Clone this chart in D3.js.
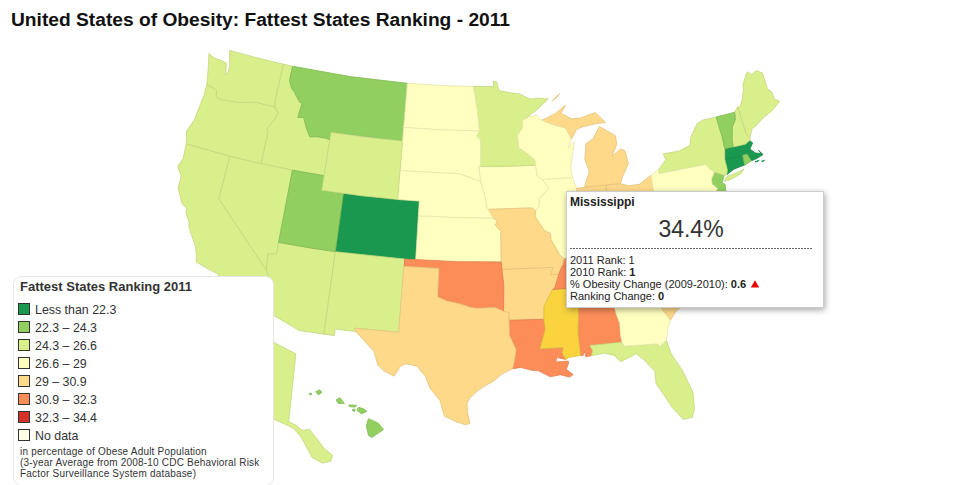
<!DOCTYPE html>
<html>
<head>
<meta charset="utf-8">
<script src="https://d3js.org/d3.v7.min.js"></script>
<style>
  body { margin: 0; background: white; font-family: "Liberation Sans", Arial, sans-serif; }
</style>
</head>
<body>
<div id="my_dataviz"></div>
<script>
// state codes and obesity values, estimated from the colour class in the picture
const stateCodes = ["AL","AK","AZ","AR","CA","CO","CT","DE","FL","GA","HI","ID","IL","IN","IA","KS","KY","LA","ME","MD","MA","MI","MN","MS","MO","MT","NE","NV","NH","NJ","NM","NY","NC","ND","OH","OK","OR","PA","RI","SC","SD","TN","TX","UT","VT","VA","WA","WV","WI","WY"];
const stateValues = [32.2,25.0,25.2,30.5,25.0,21.0,21.8,28.0,26.1,28.5,23.1,25.7,28.2,30.0,28.1,28.2,31.3,31.6,26.5,28.0,22.2,30.5,25.7,34.4,30.3,23.2,27.0,25.5,25.6,24.1,25.3,25.0,30.0,28.4,29.6,31.0,26.0,28.4,24.0,30.8,28.0,31.7,30.1,23.5,23.5,26.8,26.2,32.2,27.7,25.4];

// legend
const legendLabels = ["Less than 22.3","22.3 – 24.3","24.3 – 26.6","26.6 – 29","29 – 30.9","30.9 – 32.3","32.3 – 34.4","No data"];
const classBreaks = [22.3,24.3,26.6,29,30.9,32.3];
const classColors = ["#1a9850","#91cf60","#d9ef8b","#ffffbf","#fed98a","#fc8d59","#d73027"];
const noDataColor = "#ffffe5";
const hoverColor = "#f9d43f";
const footnote = ["in percentage of Obese Adult Population","(3-year Average from 2008-10 CDC Behavioral Risk","Factor Surveillance System database)"];

// tooltip
const hoverState = "MS";
const tipLines = [["2011 Rank: 1",""],["2010 Rank: ","1"],["% Obesity Change (2009-2010): ","0.6"],["Ranking Change: ","0"]];

// outlines, [lon, lat]
const outlines = {
  WA:[[[-124.7,48.38],[-124.1,48.2],[-123.1,48.15],[-122.75,48.1],[-122.65,47.9],[-122.45,47.3],[-122.3,47.5],[-122.3,47.95],[-122.5,48.4],[-122.75,49],[-120,49],[-117.03,49],[-117.04,46.42],[-116.92,45.99],[-118.98,46],[-119.3,45.93],[-120.5,45.7],[-121.2,45.65],[-122.2,45.58],[-122.75,45.65],[-122.9,46.1],[-123.4,46.2],[-123.98,46.25],[-124.1,46.7],[-124.2,47],[-124.4,47.6]]],
  OR:[[[-123.98,46.25],[-123.4,46.2],[-122.9,46.1],[-122.75,45.65],[-122.2,45.58],[-121.2,45.65],[-120.5,45.7],[-119.3,45.93],[-118.98,46],[-116.92,45.99],[-116.46,45.6],[-116.85,44.9],[-117.2,44.4],[-117.03,44.2],[-117.03,42],[-120,42],[-124.21,42],[-124.4,42.5],[-124.55,42.84],[-124.15,43.7],[-124.05,44.7],[-123.95,45.5]]],
  CA:[[[-124.21,42],[-120,42],[-120,39],[-114.63,35],[-114.14,34.3],[-114.43,34],[-114.72,33.4],[-114.52,33],[-114.72,32.72],[-117.12,32.53],[-117.25,32.85],[-117.9,33.6],[-118.4,33.75],[-118.5,34.03],[-119.2,34.15],[-120.5,34.45],[-120.65,34.9],[-120.9,35.45],[-121.9,36.6],[-122,36.95],[-122.5,37.5],[-122.5,37.8],[-123,38],[-123.75,38.95],[-123.8,39.8],[-124.35,40.35],[-124.1,41],[-124.2,41.75]]],
  NV:[[[-120,42],[-117.03,42],[-114.04,42],[-114.04,37],[-114.05,36.2],[-114.75,36.1],[-114.63,35],[-120,39]]],
  ID:[[[-117.03,49],[-116.05,49],[-116.05,48],[-115.7,47.5],[-115.3,47.25],[-114.6,46.65],[-114.35,46.65],[-114.5,45.6],[-113.95,45.7],[-113.45,44.95],[-113,44.45],[-112.3,44.55],[-111.5,44.55],[-111.05,44.48],[-111.05,42],[-114.04,42],[-117.03,42],[-117.03,44.2],[-117.2,44.4],[-116.85,44.9],[-116.46,45.6],[-116.92,45.99],[-117.04,46.42]]],
  MT:[[[-116.05,49],[-110,49],[-104.05,49],[-104.05,45],[-111.05,45],[-111.05,44.48],[-111.5,44.55],[-112.3,44.55],[-113,44.45],[-113.45,44.95],[-113.95,45.7],[-114.5,45.6],[-114.35,46.65],[-114.6,46.65],[-115.3,47.25],[-115.7,47.5],[-116.05,48]]],
  WY:[[[-111.05,45],[-107.5,45],[-104.05,45],[-104.05,41],[-107.5,41],[-111.05,41]]],
  UT:[[[-114.04,42],[-111.05,42],[-111.05,41],[-109.05,41],[-109.05,37],[-111.5,37],[-114.04,37]]],
  CO:[[[-109.05,41],[-105.5,41],[-102.05,41],[-102.05,37],[-105.5,37],[-109.05,37]]],
  AZ:[[[-114.05,37],[-109.05,37],[-109.05,31.33],[-111.07,31.33],[-114.81,32.5],[-114.72,32.72],[-114.52,33],[-114.72,33.4],[-114.43,34],[-114.14,34.3],[-114.63,35],[-114.75,36.1],[-114.05,36.2]]],
  NM:[[[-109.05,37],[-103,37],[-103.04,32],[-106.62,32],[-106.53,31.78],[-108.2,31.78],[-108.2,31.33],[-109.05,31.33]]],
  ND:[[[-104.05,49],[-100.5,49],[-97.23,49],[-96.85,47.6],[-96.56,45.94],[-100.5,45.94],[-104.05,45.94]]],
  SD:[[[-104.05,45.94],[-100.5,45.94],[-96.56,45.94],[-96.85,45.6],[-96.45,45.3],[-96.45,43.5],[-96.6,43.5],[-96.45,42.49],[-97.85,42.85],[-98.5,43],[-101,43],[-104.05,43]]],
  NE:[[[-104.05,43],[-101,43],[-98.5,43],[-97.85,42.85],[-96.45,42.49],[-96.1,41.7],[-95.85,40.7],[-95.31,40],[-98.5,40],[-102.05,40],[-102.05,41],[-104.05,41]]],
  KS:[[[-102.05,40],[-98.5,40],[-95.31,40],[-94.9,39.8],[-95.1,39.5],[-94.61,39.1],[-94.62,37],[-98.5,37],[-102.04,37]]],
  OK:[[[-103,37],[-98.5,37],[-94.62,37],[-94.43,35.4],[-94.48,33.64],[-95.2,33.9],[-96.6,33.85],[-97.2,33.9],[-98.1,34.13],[-99.2,34.3],[-100,34.56],[-100,36.5],[-103,36.5]]],
  TX:[[[-106.62,32],[-103.04,32],[-103.04,36.5],[-100,36.5],[-100,34.56],[-99.2,34.3],[-98.1,34.13],[-97.2,33.9],[-96.6,33.85],[-95.2,33.9],[-94.48,33.64],[-94.04,33.55],[-94.04,32],[-93.52,31],[-93.72,30.1],[-93.84,29.7],[-94.7,29.35],[-95.3,28.9],[-96.4,28.35],[-97.2,27.7],[-97.4,27.3],[-97.35,26.7],[-97.15,25.96],[-97.5,25.85],[-98.2,26.05],[-99.1,26.4],[-99.5,27.5],[-100.3,28.3],[-100.7,29.1],[-101.4,29.77],[-102.3,29.88],[-102.7,29.7],[-103.15,28.98],[-104,29.3],[-104.5,29.65],[-104.9,30.55],[-106,31.4],[-106.53,31.78]]],
  MN:[[[-97.23,49],[-95.15,49],[-95.15,49.38],[-94.8,49.3],[-94.6,48.72],[-93.5,48.55],[-92.5,48.45],[-91.4,48.05],[-90.75,48.1],[-89.6,48],[-90.8,47.3],[-92,46.72],[-92.3,46.66],[-92.3,46.1],[-92.85,45.6],[-92.75,44.75],[-91.9,44.3],[-91.25,43.85],[-91.22,43.5],[-94,43.5],[-96.45,43.5],[-96.45,45.3],[-96.85,45.6],[-96.56,45.94],[-96.85,47.6]]],
  IA:[[[-96.6,43.5],[-94,43.5],[-91.22,43.5],[-91.1,42.75],[-90.64,42.5],[-90.15,41.9],[-90.3,41.75],[-91.05,41.2],[-91.1,40.7],[-91.42,40.38],[-91.73,40.61],[-95.77,40.58],[-95.85,40.7],[-96.1,41.7],[-96.45,42.49]]],
  MO:[[[-95.77,40.58],[-91.73,40.61],[-91.42,40.38],[-91.5,40],[-90.7,39],[-90.2,38.8],[-90.2,38.4],[-89.5,37.3],[-89.15,37],[-89.4,36.5],[-89.7,36],[-90.37,36],[-90.15,36.5],[-94.62,36.5],[-94.62,37],[-94.61,39.1],[-95.1,39.5],[-94.9,39.8],[-95.31,40]]],
  AR:[[[-94.62,36.5],[-90.15,36.5],[-90.37,36],[-89.7,36],[-90.1,35.1],[-90.6,34.6],[-91.1,33.9],[-91.17,33],[-94.04,33.02],[-94.04,33.55],[-94.48,33.64],[-94.43,35.4]]],
  LA:[[[-94.04,33.02],[-91.17,33],[-91.1,32.3],[-91.6,31],[-89.73,31],[-89.85,30.65],[-89.6,30.18],[-90.3,30.35],[-90.4,30.05],[-89.8,30.05],[-89.4,30.05],[-89.4,29.9],[-89.6,29.5],[-89.1,29.1],[-89.4,28.95],[-90.1,29.15],[-90.9,29.05],[-91.8,29.5],[-92.3,29.55],[-93.2,29.78],[-93.84,29.7],[-93.72,30.1],[-93.52,31],[-94.04,32]]],
  MS:[[[-90.3,35],[-88.2,35],[-88.1,34.9],[-88.47,31.9],[-88.4,30.37],[-89.3,30.3],[-89.6,30.18],[-89.85,30.65],[-89.73,31],[-91.6,31],[-91.1,32.3],[-91.17,33],[-91.1,33.9],[-90.6,34.6]]],
  AL:[[[-88.2,35],[-85.6,34.98],[-85.18,32.87],[-85,32.3],[-85.05,31.55],[-85,31],[-87.6,31],[-87.4,30.65],[-87.52,30.3],[-88,30.25],[-88,30.65],[-88.2,30.35],[-88.4,30.37],[-88.47,31.9],[-88.1,34.9]]],
  TN:[[[-90.3,35],[-90.1,35.1],[-89.7,36],[-89.4,36.5],[-88.07,36.5],[-88.05,36.68],[-83.68,36.6],[-81.68,36.59],[-82,36.13],[-84.3,35],[-85.6,34.98],[-88.2,35]]],
  GA:[[[-85.6,34.98],[-84.3,35],[-83.1,35],[-83.35,34.7],[-82.6,34.2],[-81.5,33],[-80.85,32.05],[-81.2,31.5],[-81.45,30.72],[-82.05,30.37],[-82.2,30.57],[-84.86,30.7],[-85,31],[-85.05,31.55],[-85,32.3],[-85.18,32.87]]],
  FL:[[[-87.6,31],[-85,31],[-84.86,30.7],[-82.2,30.57],[-82.05,30.37],[-81.45,30.72],[-81.25,29.8],[-80.55,28.45],[-80.05,26.9],[-80.15,25.75],[-80.4,25.2],[-81.1,25.15],[-81.8,26.1],[-82.2,26.9],[-82.75,27.9],[-82.7,28.7],[-83.4,29.6],[-84,30.1],[-84.4,29.95],[-85.3,29.68],[-85.7,30.15],[-86.5,30.38],[-87.52,30.3],[-87.4,30.65]]],
  SC:[[[-83.1,35],[-82.3,35.2],[-81.05,35.15],[-80.8,34.82],[-79.68,34.8],[-78.55,33.86],[-79.2,33.2],[-80.4,32.5],[-80.85,32.05],[-81.5,33],[-82.6,34.2],[-83.35,34.7]]],
  NC:[[[-84.3,35],[-82,36.13],[-81.68,36.59],[-75.87,36.55],[-75.5,35.25],[-76.5,34.65],[-77.9,33.9],[-78.55,33.86],[-79.68,34.8],[-80.8,34.82],[-81.05,35.15],[-82.3,35.2],[-83.1,35]]],
  VA:[[[-83.68,36.6],[-81.68,36.59],[-75.87,36.55],[-76,37],[-76.3,37.5],[-76.3,38],[-77.05,38.4],[-77.05,38.85],[-77.5,39.1],[-77.83,39.13],[-78.35,39.4],[-78.87,38.76],[-79.65,38.58],[-80.3,37.5],[-81.3,37.3],[-81.97,37.54]]],
  WV:[[[-81.97,37.54],[-81.3,37.3],[-80.3,37.5],[-79.65,38.58],[-78.87,38.76],[-78.35,39.4],[-77.83,39.13],[-77.72,39.32],[-78.4,39.62],[-79.48,39.47],[-79.48,39.72],[-80.52,39.72],[-80.52,40.64],[-80.85,39.7],[-81.7,39.2],[-82.2,38.6],[-82.6,38.2]]],
  KY:[[[-89.15,37],[-89.4,36.5],[-88.07,36.5],[-88.05,36.68],[-83.68,36.6],[-81.97,37.54],[-82.6,38.2],[-82.6,38.42],[-83.7,38.65],[-84.8,39.1],[-85.5,38.7],[-86.3,38.1],[-87.1,37.8],[-88.05,37.8],[-88.5,37.1]]],
  OH:[[[-84.8,41.7],[-83.45,41.72],[-82.7,41.5],[-81.7,41.5],[-80.52,41.98],[-80.52,40.64],[-80.85,39.7],[-81.7,39.2],[-82.2,38.6],[-82.6,38.42],[-83.7,38.65],[-84.8,39.1]]],
  IN:[[[-87.53,41.72],[-86.8,41.76],[-84.8,41.76],[-84.8,39.1],[-85.5,38.7],[-86.3,38.1],[-87.1,37.8],[-88.05,37.8],[-87.53,39.35]]],
  IL:[[[-90.64,42.5],[-87.8,42.5],[-87.53,41.72],[-87.53,39.35],[-88.05,37.8],[-88.5,37.1],[-89.15,37],[-89.5,37.3],[-90.2,38.4],[-90.2,38.8],[-90.7,39],[-91.5,40],[-91.42,40.38],[-91.1,40.7],[-91.05,41.2],[-90.3,41.75],[-90.15,41.9]]],
  WI:[[[-92.3,46.66],[-92,46.72],[-90.9,46.95],[-90.4,46.55],[-89.1,46.13],[-88.1,45.9],[-87.6,45.1],[-88,44.55],[-87.35,44.9],[-87.55,44.3],[-87.9,43.2],[-87.8,42.5],[-90.64,42.5],[-91.1,42.75],[-91.22,43.5],[-91.25,43.85],[-91.9,44.3],[-92.75,44.75],[-92.85,45.6],[-92.3,46.1]]],
  MI:[[[-86.8,41.76],[-84.8,41.76],[-83.45,41.72],[-83.1,42.25],[-82.45,43],[-82.6,43.9],[-83,44.07],[-83.9,43.65],[-83.3,44.4],[-83.3,45],[-84.75,45.78],[-85.5,45],[-86.25,44.7],[-86.5,43.65],[-86.2,42.8]],
      [[-90.4,46.55],[-89.1,46.13],[-88.1,45.9],[-87.6,45.1],[-87,45.75],[-86.3,45.9],[-85,46],[-84.1,46],[-84.7,46.5],[-85,46.77],[-86.5,46.5],[-87.4,46.5],[-88.4,46.95],[-87.9,47.47],[-89,46.95]],
      [[-89.2,47.85],[-88.4,48.3],[-88.7,48.05]]],
  PA:[[[-80.52,41.98],[-79.76,42.27],[-79.76,42],[-75.35,42],[-75.05,41.6],[-74.7,41.36],[-75.1,40.95],[-75.15,40.6],[-74.75,40.2],[-75.4,39.8],[-75.8,39.72],[-80.52,39.72]]],
  NY:[[[-79.76,42.27],[-78.9,42.85],[-79.05,43.27],[-77.5,43.27],[-76.4,43.5],[-76.2,44],[-75.3,44.85],[-74.7,45],[-73.35,45],[-73.25,43.6],[-73.27,42.75],[-73.5,42.05],[-73.5,41.3],[-73.65,41],[-73.9,41],[-74.7,41.36],[-75.05,41.6],[-75.35,42],[-79.76,42]],
      [[-74,40.6],[-73.7,40.87],[-72.6,40.98],[-72,41.1],[-72.5,40.8],[-73.5,40.6]]],
  NJ:[[[-74.7,41.36],[-73.9,41],[-74.25,40.5],[-74,40.4],[-74.1,39.75],[-74.9,38.95],[-75.5,39.5],[-74.75,40.2],[-75.15,40.6],[-75.1,40.95]]],
  DE:[[[-75.8,39.72],[-75.4,39.8],[-75.55,39.45],[-75.05,38.45],[-75.7,38.45]]],
  MD:[[[-79.48,39.72],[-75.8,39.72],[-75.7,38.45],[-75.05,38.45],[-75.25,38.03],[-75.9,37.95],[-76.1,39.5],[-76.5,38.5],[-76.3,38.05],[-77.05,38.4],[-77.05,38.85],[-77.5,39.1],[-77.83,39.13],[-77.72,39.32],[-78.4,39.62],[-79.48,39.47]]],
  CT:[[[-73.5,42.05],[-71.8,42.02],[-71.8,41.35],[-72.9,41.25],[-73.65,41],[-73.5,41.3]]],
  RI:[[[-71.8,42.02],[-71.38,42.02],[-71.15,41.5],[-71.85,41.32]]],
  MA:[[[-73.27,42.75],[-71.3,42.7],[-70.8,42.87],[-70.6,42.65],[-71,42.3],[-70.6,41.95],[-70.1,41.8],[-70.25,42.07],[-69.95,41.7],[-70.65,41.55],[-71.15,41.5],[-71.38,42.02],[-71.8,42.02],[-73.5,42.05]],
      [[-70.85,41.38],[-70.45,41.4],[-70.6,41.33]],
      [[-70.25,41.3],[-69.97,41.3],[-70.1,41.24]]],
  VT:[[[-73.35,45],[-71.5,45],[-71.6,44.5],[-72.05,44.1],[-72.4,43.2],[-72.46,42.73],[-73.27,42.75],[-73.25,43.6]]],
  NH:[[[-71.5,45.01],[-71.08,45.3],[-70.98,43.4],[-70.7,43.07],[-70.8,42.87],[-71.3,42.7],[-72.46,42.73],[-72.4,43.2],[-72.05,44.1],[-71.6,44.5]]],
  ME:[[[-71.08,45.3],[-70.85,45.25],[-70.4,45.8],[-70.05,46.4],[-69.99,46.7],[-69.23,47.46],[-68.9,47.18],[-68.3,47.36],[-67.8,47.07],[-67.78,45.95],[-67.45,45.6],[-67.45,45.15],[-67,44.85],[-68,44.4],[-69,44.1],[-69.8,43.75],[-70.3,43.6],[-70.7,43.07],[-70.98,43.4]]],
  AK:[[[-141,69.6],[-141,60.3],[-139,59.9],[-137.2,59.2],[-135.2,59.4],[-133.5,58.3],[-131.5,56.8],[-129.5,55.8],[-130,55],[-132,54.8],[-134.5,55.6],[-136.2,57.3],[-137.5,58.4],[-139.5,59.4],[-141.5,59.8],[-145,60.3],[-148,60],[-150,59.2],[-151,61],[-153,59.5],[-156,57.5],[-160,55.5],[-163,54.7],[-160,56],[-157.5,58.5],[-162,59],[-165,60.5],[-166,62],[-161,64],[-166,64.5],[-168,65.6],[-162,67],[-166,68.5],[-156.5,71.3],[-149,70.5]]],
  HI:[[[-155.9,20.25],[-155.2,19.95],[-154.8,19.5],[-155.65,18.95],[-155.9,19.1],[-156.05,19.75]],
      [[-156.7,20.95],[-156.6,21.03],[-156.25,20.93],[-156,20.75],[-156.4,20.58],[-156.7,20.8]],
      [[-157.3,21.2],[-156.75,21.17],[-156.85,21.05],[-157.3,21.08]],
      [[-157.05,20.9],[-156.85,20.9],[-156.9,20.75],[-157.05,20.8]],
      [[-158.25,21.55],[-157.97,21.7],[-157.65,21.3],[-158.1,21.3]],
      [[-159.75,22.1],[-159.45,22.23],[-159.3,22.05],[-159.55,21.88]],
      [[-160.25,21.95],[-160.05,22],[-160.1,21.85]]]
};

var width = 965, height = 485;

var svg = d3.select("#my_dataviz")
  .append("svg")
  .attr("width", width)
  .attr("height", height)
  .style("display", "block");

var defs = svg.append("defs");
var shadow = defs.append("filter").attr("id", "tipShadow")
  .attr("x", "-10%").attr("y", "-10%").attr("width", "120%").attr("height", "125%");
shadow.append("feDropShadow").attr("dx", 1).attr("dy", 2).attr("stdDeviation", 3)
  .attr("flood-color", "#000").attr("flood-opacity", 0.35);

svg.append("text")
  .attr("x", 11).attr("y", 26)
  .style("font-size", "19.2px").style("font-weight", "bold").style("fill", "#111")
  .text("United States of Obesity: Fattest States Ranking - 2011");

var color = d3.scaleThreshold().domain(classBreaks).range(classColors);

// lower 48 plus the two insets, Alaska is drawn bigger here than geoAlbersUsa would
var lower48 = d3.geoAlbers().scale(835).translate([478.5, 237]);
var alaska = d3.geoConicEqualArea().rotate([134, 0]).center([0, 60]).parallels([55, 65])
  .scale(420).translate([314, 425]);
var hawaii = d3.geoConicEqualArea().rotate([157, 0]).center([-3, 19.9]).parallels([8, 18])
  .scale(835).translate([312, 423.5]);

function pathFor(code) {
  if (code === "AK") return d3.geoPath(alaska);
  if (code === "HI") return d3.geoPath(hawaii);
  return d3.geoPath(lower48);
}

// make sure every ring is wound the way d3.geo expects
function polygonFor(ring) {
  var poly = { type: "Polygon", coordinates: [ring.concat([ring[0]])] };
  if (d3.geoArea(poly) > 2 * Math.PI) {
    poly.coordinates = [ring.concat([ring[0]]).reverse()];
  }
  return poly;
}

var states = stateCodes.map(function (code, i) {
  return {
    code: code,
    value: stateValues[i],
    geo: { type: "GeometryCollection", geometries: outlines[code].map(polygonFor) }
  };
});

function stateFill(d) {
  return d.code === hoverState ? hoverColor : color(d.value);
}

svg.append("g").selectAll("path")
  .data(states)
  .enter()
  .append("path")
  .attr("d", function (d) { return pathFor(d.code)(d.geo); })
  .attr("fill", stateFill)
  .attr("stroke", function (d) { return d3.color(stateFill(d)).darker(0.3); })
  .attr("stroke-width", 0.8)
  .attr("stroke-linejoin", "round");

// legend box
var legend = svg.append("g").attr("transform", "translate(13,276)");
legend.append("rect")
  .attr("x", 0.5).attr("y", 0.5).attr("width", 260).attr("height", 209).attr("rx", 8)
  .attr("fill", "white").attr("stroke", "#e6e6e6");
legend.append("text")
  .attr("x", 7).attr("y", 15)
  .style("font-size", "13px").style("font-weight", "bold").style("fill", "#333")
  .text("Fattest States Ranking 2011");

var legendY = d3.scalePoint().domain(legendLabels).range([33, 159]);
var legendRow = legend.selectAll(".row")
  .data(legendLabels)
  .enter()
  .append("g")
  .attr("class", "row")
  .attr("transform", function (d) { return "translate(0," + legendY(d) + ")"; });
legendRow.append("rect")
  .attr("x", 5.5).attr("y", -5.5).attr("width", 11).attr("height", 11)
  .attr("stroke", "#333")
  .attr("fill", function (d, i) { return i < classColors.length ? classColors[i] : noDataColor; });
legendRow.append("text")
  .attr("x", 22).attr("y", 4.5)
  .style("font-size", "12.4px").style("fill", "#333")
  .text(function (d) { return d; });
legend.selectAll(".note")
  .data(footnote)
  .enter()
  .append("text")
  .attr("class", "note")
  .attr("x", 7)
  .attr("y", function (d, i) { return 179 + i * 11; })
  .style("font-size", "10px").style("letter-spacing", "0.2px").style("fill", "#333")
  .text(function (d) { return d; });

// tooltip
var tip = svg.append("g").attr("transform", "translate(566,191)");
tip.append("rect")
  .attr("x", 0.5).attr("y", 0.5).attr("width", 257).attr("height", 116)
  .attr("fill", "white").attr("stroke", "#ccc")
  .attr("filter", "url(#tipShadow)");
tip.append("text")
  .attr("x", 4).attr("y", 15)
  .style("font-size", "12px").style("font-weight", "bold").style("fill", "#222")
  .text("Mississippi");
tip.append("text")
  .attr("x", 125).attr("y", 46).attr("text-anchor", "middle")
  .style("font-size", "23px").style("fill", "#333")
  .text(stateValues[stateCodes.indexOf(hoverState)] + "%");
tip.append("line")
  .attr("x1", 4).attr("x2", 247).attr("y1", 57.5).attr("y2", 57.5)
  .attr("stroke", "#666").attr("stroke-dasharray", "2,1");
var tipText = tip.selectAll(".line")
  .data(tipLines)
  .enter()
  .append("text")
  .attr("class", "line")
  .attr("x", 4)
  .attr("y", function (d, i) { return 72.5 + i * 12.1; })
  .style("font-size", "11px").style("fill", "#222");
tipText.append("tspan").text(function (d) { return d[0]; });
tipText.append("tspan").style("font-weight", "bold").text(function (d) { return d[1]; });
tip.append("path")
  .attr("d", d3.symbol().type(d3.symbolTriangle).size(30))
  .attr("transform", "translate(189,94)")
  .attr("fill", "#e00");
</script>
</body>
</html>
